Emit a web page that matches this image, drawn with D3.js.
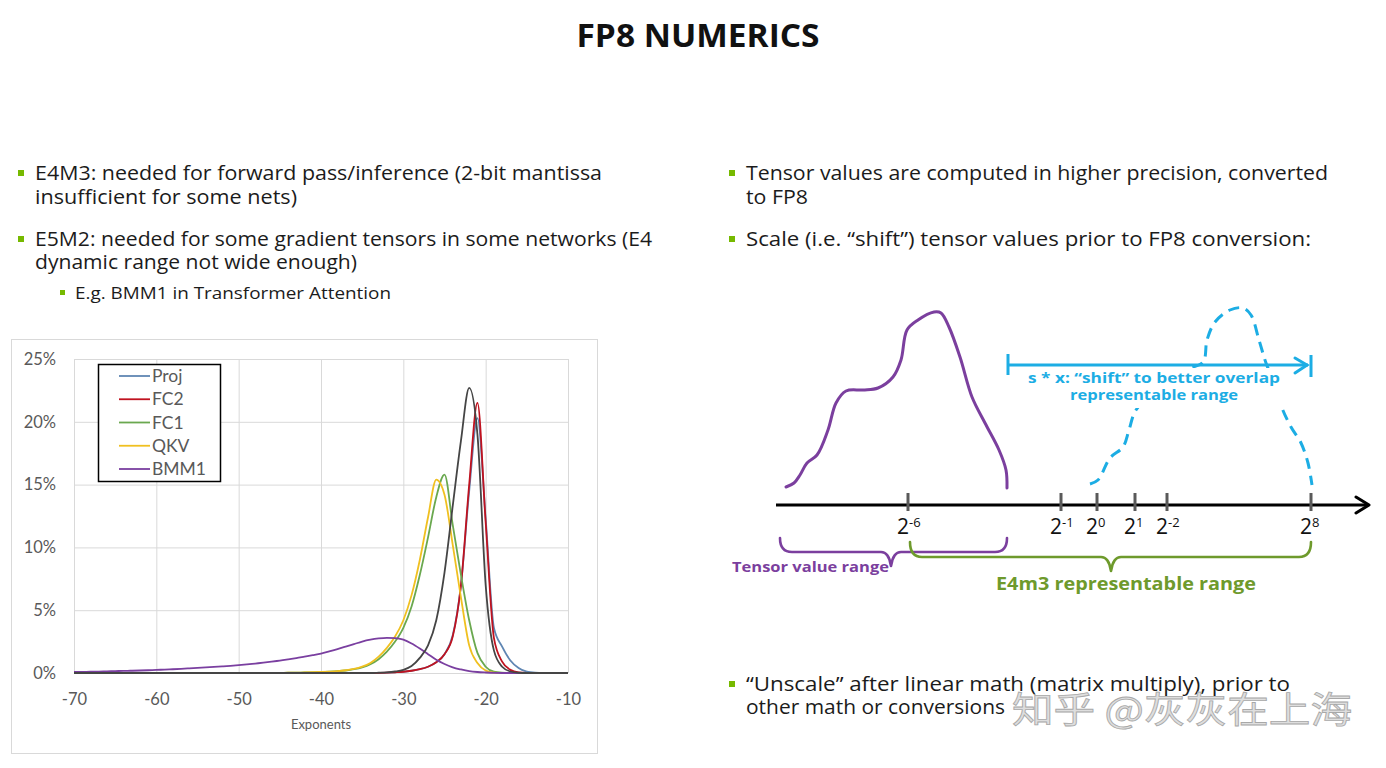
<!DOCTYPE html>
<html><head><meta charset="utf-8">
<script src="https://cdn.jsdelivr.net/npm/d3@7"></script>
<style>body{margin:0;background:#fff;overflow:hidden}</style>
</head><body><svg id="c" width="1386" height="768"></svg>
<script>
// ---------- chart data ----------
const exponents = [-70,-69,-68,-67,-66,-65,-64,-63,-62,-61,-60,-59,-58,-57,-56,-55,-54,-53,-52,-51,-50,-49,-48,-47,-46,-45,-44,-43,-42,-41,-40,-39,-38,-37,-36,-35,-34,-33,-32,-31,-30,-29,-28,-27,-26,-25,-24,-23,-22,-21,-20,-19,-18,-17,-16,-15,-14,-13,-12,-11,-10];
const projValues = [0,0,0,0,0,0,0,0,0,0, 0,0,0,0,0,0,0,0,0,0, 0,0,0,0,0,0,0,0,0,0, 0,0,0,0,0,0,0,
  0.01,0.03,0.06,0.1,0.18,0.3,0.5,0.85,1.5,3.0,7.0,14.5,20.3,12.3,3.6,2.1,1.0,0.4,0.1,0.02, 0,0,0,0];
const fc2Values = [0,0,0,0,0,0,0,0,0,0, 0,0,0,0,0,0,0,0,0,0, 0,0,0,0,0,0,0,0,0,0, 0,0,0,0,0,0,0,
  0.01,0.03,0.06,0.1,0.18,0.3,0.5,0.85,1.5,2.9,7.0,15.0,21.5,12.0,2.8,0.9,0.25,0.05,0.01, 0,0,0,0,0];
const fc1Values = [0,0,0,0,0,0,0,0,0,0, 0,0,0,0,0,0,0,0,0,0, 0,0,0,0,0,
  0.01,0.02,0.03,0.04,0.05,0.07,0.1,0.14,0.2,0.3,0.45,0.7,1.1,1.7,2.5,3.6,5.3,7.8,10.8,14.0,15.8,11.8,7.8,4.2,1.6,0.5,0.1,0.02,
  0,0,0,0,0,0,0,0];
const qkvValues = [0,0,0,0,0,0,0,0,0,0, 0,0,0,0,0,0,0,0,0,0, 0,0,0,0,0,
  0.01,0.02,0.03,0.04,0.06,0.08,0.11,0.15,0.22,0.32,0.5,0.8,1.3,2.0,2.9,4.2,6.2,9.0,12.4,15.4,14.2,10.2,6.0,2.2,0.8,0.2,0.03,
  0,0,0,0,0,0,0,0,0];
const bmm1Values = [0.08,0.09,0.1,0.11,0.13,0.15,0.17,0.18,0.2,0.22,
  0.25,0.27,0.3,0.33,0.37,0.41,0.45,0.49,0.53,0.57,
  0.62,0.68,0.75,0.82,0.9,0.99,1.08,1.18,1.3,1.42,
  1.55,1.72,1.9,2.1,2.3,2.5,2.65,2.75,2.8,2.78,
  2.65,2.35,1.95,1.5,1.05,0.72,0.45,0.28,0.15,0.08,
  0.04,0.01, 0,0,0,0,0,0,0,0,0];
const unlabeledValues = [0,0,0,0,0,0,0,0,0,0, 0,0,0,0,0,0,0,0,0,0, 0,0,0,0,0,0,0,0,0,0, 0,0,0,0,0,0,0,
  0.02,0.05,0.12,0.25,0.55,1.2,2.2,4.2,8.0,13.3,18.5,22.7,19.0,7.0,1.8,0.5,0.12,0.02, 0,0,0,0,0,0];
const seriesNames = ["Proj","FC2","FC1","QKV","BMM1",""];
const seriesColors = ["#5f86b3","#c0121f","#6aa84f","#f0c020","#7a3fa0","#454545"];
const seriesData = [projValues, fc2Values, fc1Values, qkvValues, bmm1Values, unlabeledValues];
const xTicks = [-70,-60,-50,-40,-30,-20,-10];
const yTicks = [0,5,10,15,20,25];

// ---------- diagram data (schematic units: x along axis, y height above axis) ----------
const tensorShape = [[16,18],[24,22],[30,30],[37,42],[47,50],[58,75],[66,102],[76,114],[93,115],[108,117],[123,128],[131,145],[137,175],[148,185],[164,193],[171,192],[179,178],[190,148],[202,108],[215,82],[229,55],[236,35],[237,17]];
const shiftedShape = [[320,21],[328,25],[340,47],[353,58],[359,75],[366,95],[390,118],[415,135],[433,143],[437,165],[445,183],[460,195],[473,197],[481,190],[489,165],[496,142],[504,122],[512,97],[521,78],[531,62],[538,42],[542,20]];
const diagramTicks = [138,291,327,365,397,541];
const diagramTickBase = ["2","2","2","2","2","2"];
const diagramTickExp = ["-6","-1","0","1","-2","8"];
const shiftArrow = [238,541];
const tensorRange = [10,237,121];
const e4m3Range = [140,541,341];

const svg = d3.select("#c");
svg.append("rect").attr("width",1386).attr("height",768).attr("fill","#fff");

// ---------- slide text ----------
const txt = "#1b1b1b", bulletGreen = "#76b900";
svg.append("text").attr("x",698).attr("y",47).attr("text-anchor","middle")
  .attr("font-family","'Open Sans',sans-serif").attr("font-weight",700).attr("font-size",32)
  .attr("textLength",243).attr("lengthAdjust","spacingAndGlyphs").attr("fill","#111").text("FP8 NUMERICS");

const lines = [
  {x:35,y:180,w:567,s:20,t:"E4M3: needed for forward pass/inference (2-bit mantissa",b:true},
  {x:35,y:204,w:262,s:20,t:"insufficient for some nets)"},
  {x:35,y:246,w:617,s:20,t:"E5M2: needed for some gradient tensors in some networks (E4",b:true},
  {x:35,y:269,w:322,s:20,t:"dynamic range not wide enough)"},
  {x:75,y:299,w:316,s:17,t:"E.g. BMM1 in Transformer Attention",b:true,sub:true},
  {x:746,y:180,w:582,s:20,t:"Tensor values are computed in higher precision, converted",b:true},
  {x:746,y:204,w:62,s:20,t:"to FP8"},
  {x:746,y:246,w:565,s:20,t:"Scale (i.e. \u201cshift\u201d) tensor values prior to FP8 conversion:",b:true},
  {x:746,y:691,w:544,s:20,t:"\u201cUnscale\u201d after linear math (matrix multiply), prior to",b:true},
  {x:746,y:714,w:259,s:20,t:"other math or conversions"}
];
lines.forEach(l=>{
  svg.append("text").attr("x",l.x).attr("y",l.y).attr("font-family","'Open Sans',sans-serif")
    .attr("font-size",l.s).attr("fill",txt).attr("textLength",l.w).attr("lengthAdjust","spacingAndGlyphs").text(l.t);
  if(l.b){
    const sz = l.sub?5:6;
    svg.append("rect").attr("x",l.x-(l.sub?15:17)).attr("y",l.y-(l.sub?9:10)).attr("width",sz).attr("height",sz).attr("fill",bulletGreen);
  }
});

// ---------- chart ----------
svg.append("rect").attr("x",11.5).attr("y",339.5).attr("width",586).attr("height",414)
  .attr("fill","#fff").attr("stroke","#d9d9d9").attr("stroke-width",1);

const x = d3.scaleLinear().domain([-70,-10]).range([74,568]);
const y = d3.scaleLinear().domain([0,25]).range([673,359]);
const font = "Lato,'Open Sans',sans-serif", lab = "#595959";

const gy = svg.append("g").attr("transform","translate(74,0)")
  .call(d3.axisLeft(y).tickValues(yTicks).tickFormat(d=>d+"%").tickSize(-494).tickPadding(18));
gy.select(".domain").remove();
gy.selectAll("line").attr("stroke","#d9d9d9");
gy.selectAll("text").attr("font-family",font).attr("font-size",16.5).attr("fill",lab);

const gx = svg.append("g").attr("transform","translate(0,673)")
  .call(d3.axisBottom(x).tickValues(xTicks).tickFormat(d3.format("d")).tickSizeInner(-314).tickSizeOuter(0).tickPadding(20));
gx.select(".domain").remove();
gx.selectAll("line").attr("stroke","#d9d9d9");
gx.selectAll("text").attr("font-family",font).attr("font-size",16.5).attr("fill",lab).text(d=>String(d).replace("\u2212","-"));

svg.append("text").attr("x",321).attr("y",729).attr("text-anchor","middle").attr("font-family",font)
  .attr("font-size",13).attr("fill",lab).text("Exponents");

const line = d3.line().x((d,i)=>x(exponents[i])).y(d=>y(d)).curve(d3.curveMonotoneX);
seriesData.forEach((vals,k)=>{
  svg.append("path").attr("d",line(vals)).attr("fill","none")
    .attr("stroke",seriesColors[k]).attr("stroke-width",1.8);
});

// legend
svg.append("rect").attr("x",98.5).attr("y",364.5).attr("width",122).attr("height",117)
  .attr("fill","#fff").attr("stroke","#000").attr("stroke-width",1.5);
const legendY = d3.scalePoint().domain(seriesNames.slice(0,5)).range([376,469]);
seriesNames.slice(0,5).forEach((n,k)=>{
  svg.append("line").attr("x1",119).attr("x2",150).attr("y1",legendY(n)).attr("y2",legendY(n))
    .attr("stroke",seriesColors[k]).attr("stroke-width",1.8);
  svg.append("text").attr("x",152).attr("y",legendY(n)+6).attr("font-family",font).attr("font-size",17.5)
    .attr("fill",lab).text(n);
});

// ---------- diagram ----------
const dx = d3.scaleLinear().domain([0,600]).range([770,1370]);
const dy = d3.scaleLinear().domain([0,250]).range([505,255]);
const purple = "#7b3f9e", blue = "#1cade4", green = "#6e9a2c", handFont = "'Open Sans',sans-serif";

const dline = d3.line().x(d=>dx(d[0])).y(d=>dy(d[1])).curve(d3.curveCatmullRom);
svg.append("path").attr("d",dline(tensorShape)).attr("fill","none").attr("stroke",purple)
  .attr("stroke-width",3).attr("stroke-linecap","round").attr("stroke-linejoin","round");
svg.append("path").attr("d",dline(shiftedShape)).attr("fill","none").attr("stroke",blue)
  .attr("stroke-width",3).attr("stroke-dasharray","11,7");

// shift arrow
const ay = dy(140);
svg.append("rect").attr("x",dx(255)).attr("y",dy(137)).attr("width",dx(520)-dx(255)).attr("height",dy(97)-dy(137)).attr("fill","#fff");
svg.append("line").attr("x1",dx(shiftArrow[0])).attr("x2",dx(shiftArrow[1])-3).attr("y1",ay).attr("y2",ay)
  .attr("stroke",blue).attr("stroke-width",3);
svg.append("line").attr("x1",dx(shiftArrow[0])).attr("x2",dx(shiftArrow[0])).attr("y1",ay-11).attr("y2",ay+10)
  .attr("stroke",blue).attr("stroke-width",3);
svg.append("line").attr("x1",dx(shiftArrow[1])).attr("x2",dx(shiftArrow[1])).attr("y1",ay-10).attr("y2",ay+12)
  .attr("stroke",blue).attr("stroke-width",3);
svg.append("path").attr("d",`M${dx(shiftArrow[1])-16},${ay-7} L${dx(shiftArrow[1])-4},${ay} L${dx(shiftArrow[1])-16},${ay+8}`)
  .attr("fill","none").attr("stroke",blue).attr("stroke-width",3).attr("stroke-linecap","round");
svg.append("text").attr("x",dx(384)).attr("y",dy(122)).attr("text-anchor","middle").attr("font-family",handFont)
  .attr("font-weight",700).attr("font-size",15).attr("fill",blue).attr("textLength",252).attr("lengthAdjust","spacingAndGlyphs")
  .text("s * x: \u201cshift\u201d to better overlap");
svg.append("text").attr("x",dx(384)).attr("y",dy(105)).attr("text-anchor","middle").attr("font-family",handFont)
  .attr("font-weight",700).attr("font-size",15).attr("fill",blue).attr("textLength",168).attr("lengthAdjust","spacingAndGlyphs")
  .text("representable range");

// main axis
svg.append("line").attr("x1",dx(6)).attr("x2",dx(598)).attr("y1",dy(0)).attr("y2",dy(0))
  .attr("stroke","#000").attr("stroke-width",3);
svg.append("path").attr("d",`M${dx(586)},${dy(8)} L${dx(599)},${dy(0)} L${dx(586)},${dy(-8)}`)
  .attr("fill","none").attr("stroke","#000").attr("stroke-width",3).attr("stroke-linecap","round").attr("stroke-linejoin","round");
diagramTicks.forEach((t,i)=>{
  svg.append("line").attr("x1",dx(t)).attr("x2",dx(t)).attr("y1",dy(12)).attr("y2",dy(-6))
    .attr("stroke","#5a5a5a").attr("stroke-width",3);
  svg.append("text").attr("x",dx(t)+1).attr("y",dy(-29)).attr("text-anchor","end")
    .attr("font-family","'Open Sans',sans-serif").attr("font-size",21).attr("fill","#111").text(diagramTickBase[i]);
  svg.append("text").attr("x",dx(t)+1).attr("y",dy(-22)).attr("font-family","'Open Sans',sans-serif")
    .attr("font-size",13).attr("fill","#111").text(diagramTickExp[i]);
});

// braces
function brace(r, top, bar, tip, color){
  const [a,b,c] = r.map(dx), yt=dy(top), yb=dy(bar), yp=dy(tip);
  const p = `M${a},${yt} Q${a},${yb} ${a+12},${yb} L${c-10},${yb} Q${c-2},${yb} ${c},${yp} Q${c+2},${yb} ${c+10},${yb} L${b-12},${yb} Q${b},${yb} ${b},${yt}`;
  svg.append("path").attr("d",p).attr("fill","none").attr("stroke",color).attr("stroke-width",2.6)
    .attr("stroke-linecap","round").attr("stroke-linejoin","round");
}
brace(tensorRange,-33,-47,-61,purple);
brace(e4m3Range,-37,-52,-66,green);
svg.append("text").attr("x",dx(-38)).attr("y",dy(-67)).attr("font-family",handFont).attr("font-weight",700)
  .attr("font-size",15).attr("fill",purple).attr("textLength",157).attr("lengthAdjust","spacingAndGlyphs").text("Tensor value range");
svg.append("text").attr("x",dx(226)).attr("y",dy(-85)).attr("font-family",handFont).attr("font-weight",700)
  .attr("font-size",18).attr("fill",green).attr("textLength",260).attr("lengthAdjust","spacingAndGlyphs").text("E4m3 representable range");

// watermark
svg.append("text").attr("x",1012).attr("y",723).attr("font-family","'Noto Sans CJK SC',sans-serif").attr("font-size",36)
  .attr("fill","#dedede").attr("stroke","#a8a8a8").attr("stroke-width",0.8).attr("textLength",340)
  .attr("lengthAdjust","spacingAndGlyphs").text("知乎 @灰灰在上海");
</script></body></html>
